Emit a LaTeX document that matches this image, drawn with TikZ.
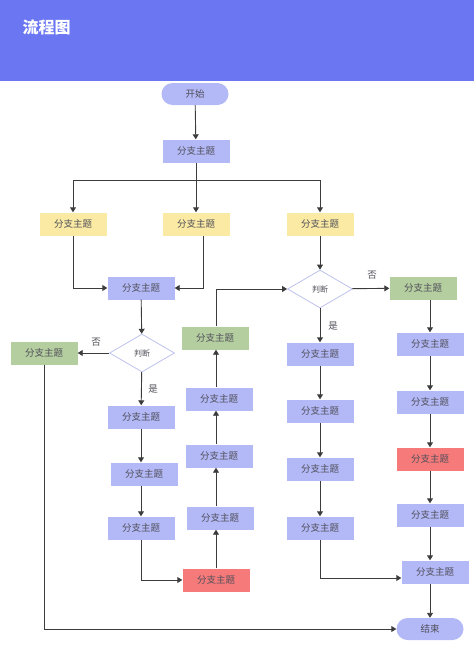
\documentclass[tikz,border=0pt]{standalone}
\usepackage{fontspec}
\newfontfamily\cjk{Noto Sans CJK SC}
\usetikzlibrary{shapes.geometric,arrows.meta}

\definecolor{headblue}{RGB}{107,119,242}
\definecolor{topicblue}{RGB}{179,184,247}
\definecolor{topicyellow}{RGB}{250,234,163}
\definecolor{topicgreen}{RGB}{181,206,160}
\definecolor{topicred}{RGB}{247,122,122}
\definecolor{diamondline}{RGB}{190,194,238}
\definecolor{textgray}{RGB}{80,80,90}
\definecolor{linegray}{RGB}{60,60,60}

\tikzset{
  topic/.style={rectangle, fill=topicblue, minimum width=67pt, minimum height=23pt,
    inner sep=0pt, text=textgray},
  yellowtopic/.style={topic, fill=topicyellow},
  greentopic/.style={topic, fill=topicgreen},
  redtopic/.style={topic, fill=topicred},
  terminal/.style={topic, rounded corners=11pt, minimum height=22pt},
  decision/.style={diamond, draw=diamondline, line width=0.8pt, fill=white,
    minimum width=65pt, minimum height=38pt, inner sep=0pt, text=textgray,
    font=\cjk\fontsize{8}{9}\selectfont},
  answer/.style={text=textgray, font=\cjk\fontsize{9.5}{11}\selectfont},
  line/.style={draw=linegray, line width=0.9pt},
  link/.style={line, -{Triangle[length=5pt,width=6pt]}}
}

\begin{document}
\begin{tikzpicture}[x=1pt, y=-1pt, font=\cjk\fontsize{9.5}{11}\selectfont]
    \useasboundingbox (0,0) rectangle (474,648);

    %----------------------
    % HEADER
    %----------------------
    \fill[headblue] (0,0) rectangle (474,81);
    \node[anchor=west, text=white, font=\cjk\bfseries\fontsize{16}{18}\selectfont]
        (title) at (19,27) {流程图};

    %----------------------
    % START + FIRST BRANCH
    %----------------------
    \node[terminal] (start) at (195,94) {开始};
    \node[topic] (t1) at (196,151) {分支主题};

    \node[yellowtopic] (y1) at (73,224) {分支主题};
    \node[yellowtopic] (y2) at (196,224) {分支主题};
    \node[yellowtopic] (y3) at (320,224) {分支主题};

    % Merge point of the left two
    \node[topic] (b1) at (141,288) {分支主题};

    %----------------------
    % LEFT DECISION
    %----------------------
    \node[decision] (d1) at (142,353) {判断};
    \node[greentopic] (g1) at (44,353) {分支主题};
    \node[answer] (no1) at (96,342) {否};
    \node[answer] (yes1) at (153,389) {是};

    % Column under the left decision
    \node[topic] (l1) at (141,417) {分支主题};
    \node[topic] (l2) at (144,474) {分支主题};
    \node[topic] (l3) at (141,528) {分支主题};
    \node[redtopic] (r1) at (216,580) {分支主题};

    % Column going back up
    \node[topic] (m1) at (220,518) {分支主题};
    \node[topic] (m2) at (219,456) {分支主题};
    \node[topic] (m3) at (219,399) {分支主题};
    \node[greentopic] (g2) at (215,338) {分支主题};

    %----------------------
    % RIGHT DECISION
    %----------------------
    \node[decision] (d2) at (320,289) {判断};
    \node[greentopic] (g3) at (423,288) {分支主题};
    \node[answer] (no2) at (372,275) {否};
    \node[answer] (yes2) at (333,326) {是};

    % Column under the right decision
    \node[topic] (c1) at (320,354) {分支主题};
    \node[topic] (c2) at (320,411) {分支主题};
    \node[topic] (c3) at (320,469) {分支主题};
    \node[topic] (c4) at (320,528) {分支主题};

    % Far right column
    \node[topic] (k1) at (430,344) {分支主题};
    \node[topic] (k2) at (430,402) {分支主题};
    \node[redtopic] (k3) at (430,459) {分支主题};
    \node[topic] (k4) at (430,515) {分支主题};
    \node[topic] (k5) at (435,572) {分支主题};
    \node[terminal] (finish) at (430,629) {结束};

    %----------------------
    % CONNECTORS
    %----------------------
    \coordinate (fork) at (196,180);
    \draw[link] (start) -- (t1);
    \draw[line] (t1) -- (fork);
    \draw[link] (fork) -- (y2);
    \draw[link] (fork) -| (y1);
    \draw[link] (fork) -| (y3);

    \draw[link] (y1) |- (b1);
    \draw[link] ([xshift=7pt]y2.south) |- (b1.east);
    \draw[link] (b1) -- (d1);
    \draw[link] (d1) -- (g1);
    \draw[link] (d1) -- (l1);
    \draw[link] (l1) -- (l1 |- l2.north);
    \draw[link] (l1 |- l2.south) -- (l3);
    \draw[link] (l3) |- (r1);

    \draw[link] (r1) -- (r1 |- m1.south);
    \draw[link] (r1 |- m1.north) -- (r1 |- m2.south);
    \draw[link] (r1 |- m2.north) -- (r1 |- m3.south);
    \draw[link] (r1 |- m3.north) -- (r1 |- g2.south);
    \draw[link] (r1 |- g2.north) |- (d2);

    \draw[link] (y3) -- (d2);
    \draw[link] (d2) -- (g3);
    \draw[link] (d2) -- (c1);
    \draw[link] (c1) -- (c2);
    \draw[link] (c2) -- (c3);
    \draw[link] (c3) -- (c4);
    \draw[link] (c4) |- ([yshift=-6pt]k5.west);

    \draw[link] (k1 |- g3.south) -- (k1);
    \draw[link] (k1) -- (k2);
    \draw[link] (k2) -- (k3);
    \draw[link] (k3) -- (k4);
    \draw[link] (k4) -- (k4 |- k5.north);
    \draw[link] (k4 |- k5.south) -- (finish);

    \draw[link] (g1) |- (finish);
\end{tikzpicture}
\end{document}
